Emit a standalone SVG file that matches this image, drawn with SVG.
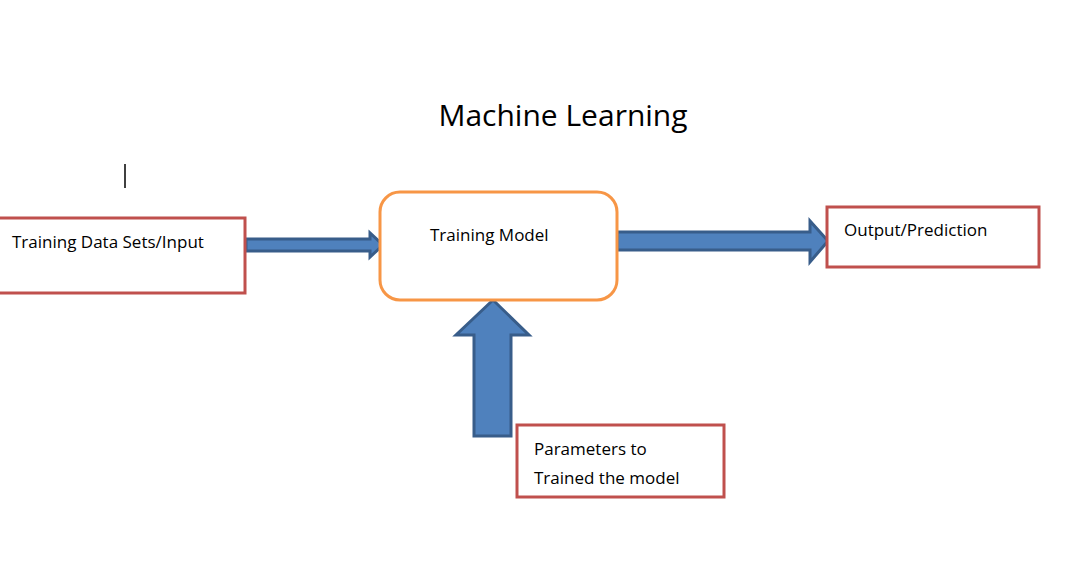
<svg xmlns="http://www.w3.org/2000/svg" width="1070" height="562" viewBox="0 0 1070 562">
<style>
.box{fill:#fff;stroke:#c0504d;stroke-width:3}
.arr{fill:#4f81bd;stroke:#385d8a;stroke-width:3;stroke-linejoin:miter}
text{font-family:"Open Sans","Liberation Sans",sans-serif;fill:#000}
.t{font-size:17px}
</style>
<rect width="1070" height="562" fill="#fff"/>
<text x="563" y="126" font-size="30" text-anchor="middle">Machine Learning</text>
<line x1="125" y1="164" x2="125" y2="188" stroke="#000" stroke-width="1.5"/>
<g id="connectors">
<polygon class="arr" points="246,239 370,239 370,233 383,245 370,257 370,251 246,251"/>
<polygon class="arr" points="617,232 810,232 810,221 828,241 810,262 810,250 617,250"/>
<polygon class="arr" points="474,436 474,335 456,335 493,300 529,335 511,335 511,436"/>
</g>
<g id="input"><rect class="box" x="-5" y="218" width="250" height="75"/><text class="t" x="12" y="248">Training Data Sets/Input</text></g>
<g id="model"><rect x="380" y="192" width="237" height="108" rx="20" fill="#fff" stroke="#f79646" stroke-width="3"/><text class="t" x="430" y="241">Training Model</text></g>
<g id="output"><rect class="box" x="827" y="207" width="212" height="60"/><text class="t" x="844" y="236">Output/Prediction</text></g>
<g id="params"><rect class="box" x="517" y="425" width="207" height="72"/><text class="t" x="534" y="455">Parameters to</text><text class="t" x="534" y="484">Trained the model</text></g>
</svg>
